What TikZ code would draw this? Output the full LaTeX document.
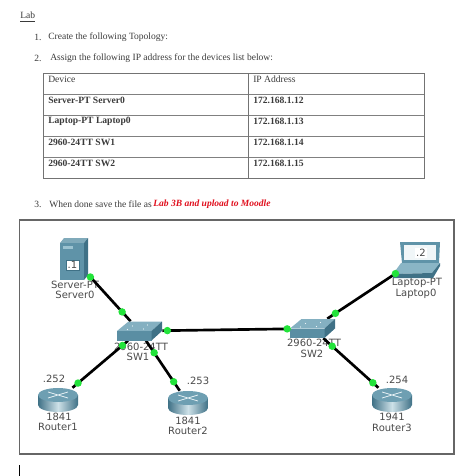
\documentclass[tikz,border=0pt]{standalone}
\usepackage{fontspec}
\setmainfont{Liberation Serif}
\newfontfamily\ptfont{DejaVu Sans}
\usetikzlibrary{positioning}
\definecolor{ink}{HTML}{3A3A3A}
\definecolor{ptgrey}{HTML}{4A4A4A}
\definecolor{ptdark}{HTML}{3F7186}
\definecolor{ptmid}{HTML}{5F93A8}
\definecolor{ptlight}{HTML}{9CC3D1}
\definecolor{portgreen}{HTML}{22E33A}
\definecolor{noterred}{HTML}{E0101E}
\tikzset{
  doc/.style={anchor=west,inner sep=0,text=ink,font=\fontsize{7.15}{9}\selectfont},
  cell/.style={anchor=west,inner sep=0,text=ink,font=\fontsize{7.2}{9}\selectfont\bfseries},
  head/.style={anchor=west,inner sep=0,text=ink,font=\fontsize{7.2}{9}\selectfont},
  ptlabel/.style={inner sep=0,text=ptgrey,font=\fontsize{7.5}{8}\selectfont\ptfont},
  device/.style={rectangle,inner sep=0},
  link/.style={line width=2pt,black},
  port/.style={circle,fill=portgreen,inner sep=0,minimum size=5.6pt},
  pics/serverpt/.style={code={
    \fill[ptlight!70!ptdark] (-14,-16) -- (-10,-21) -- (14,-21) -- (10,-16) -- cycle;
    \fill[ptdark] (10,-16) -- (14,-21) -- (14,16) -- (10,21) -- cycle;
    \fill[ptmid] (-14,-16) rectangle (10,21);
    \fill[ptlight] (-11,-13) rectangle (-1,-10);
    \fill[white,draw=ptdark,line width=0.3pt] (-8,1) rectangle (5,11);
  }},
  pics/switchpt/.style={code={
    \fill[ptlight!60!ptmid] (-22.5,0) -- (-11,-9.5) -- (22.5,-9.5) -- (12,0) -- cycle;
    \fill[ptmid!85!ptdark] (-22.5,0) rectangle (12,9.5);
    \fill[ptdark] (12,0) -- (22.5,-9.5) -- (22.5,0) -- (12,9.5) -- cycle;
    \fill[white!80!ptlight] (-7,-5) circle (0.7) (8,-6) circle (0.7) (-12,-1.5) circle (0.7) (4,-2) circle (0.7);
  }},
  pics/routerpt/.style={code={
    \shade[left color=ptdark,right color=ptdark,middle color=ptlight!50!white] (-20,-5) -- (-20,5) arc[start angle=180,end angle=0,x radius=20,y radius=7] -- (20,-5) -- cycle;
    \fill[ptmid!75!ptlight] (0,-5) ellipse[x radius=20,y radius=7];
    \draw[white!75!ptlight,line width=0.6pt] (-10,-8) -- (10,-2) (-10,-2) -- (10,-8);
  }},
  pics/laptoppt/.style={code={
    \fill[ptmid] (-16,-18) -- (24,-18) -- (23,3) -- (-14,3) -- cycle;
    \fill[white!85!ptlight] (-12,-15) rectangle (20,0);
    \fill[white] (-1,-12) rectangle (11,-2);
    \fill[ptlight!70!ptmid] (-15,3) -- (24,3) -- (16,13) -- (-23,14) -- cycle;
    \fill[ptdark] (-23,14) -- (16,13) -- (24,3) -- (24,6) -- (17,18) -- (-23,18) -- cycle;
  }},
}
\begin{document}
\begin{tikzpicture}[x=0.75pt,y=-0.75pt]
  \useasboundingbox (0,0) rectangle (474,476);
  \node[doc,anchor=west] (title) at (20,17) {\underline{Lab}};
  \node[doc] (num1) at (34,37) {1.};
  \node[doc] (item1) at (48,37) {Create the following Topology:};
  \node[doc] (num2) at (34,58) {2.};
  \node[doc] (item2) at (50,58) {Assign the following IP address for the devices list below:};
  \node[doc] (num3) at (34,204) {3.};
  \node[doc] (item3) at (49,204) {When done save the file as};
  \node[doc,text=noterred,font=\fontsize{7.15}{9}\selectfont\bfseries\itshape] (item3b) at (153,204) {Lab 3B and upload to Moodle};

  \draw[black!55,line width=0.5pt] (43.5,73.5) rectangle (424,178);
  \foreach \y in {94,115.5,136,157.5}
    \draw[black!50,line width=0.7pt] (43.5,\y) -- (424,\y);
  \draw[black!55,line width=0.5pt] (248,73.5) -- (248,178);
  \node[head] (devhead) at (48,79) {Device};
  \node[head] (iphead) at (253,79) {IP Address};
  \node[cell] (dev1) at (48,100) {Server-PT Server0};
  \node[cell] (dev2) at (48,121) {Laptop-PT Laptop0};
  \node[cell] (dev3) at (48,142) {2960-24TT SW1};
  \node[cell] (dev4) at (48,163) {2960-24TT SW2};
  \node[cell] (ip1) at (253,100) {172.168.1.12};
  \node[cell] (ip2) at (253,121) {172.168.1.13};
  \node[cell] (ip3) at (253,142) {172.168.1.14};
  \node[cell] (ip4) at (253,163) {172.168.1.15};

  \draw[black!60,line width=0.9pt] (19.5,220) rectangle (454,454);
  \draw[black,line width=0.6pt] (19.5,465) -- (19.5,476);

  \node[ptlabel] (lblserver) at (75,285) {Server-PT};
  \node[ptlabel] (lblserverb) at (75,295) {Server0};
  \node[ptlabel] (lbllaptop) at (417,283) {Laptop-PT};
  \node[ptlabel] (lbllaptopb) at (416,294) {Laptop0};
  \node[ptlabel] (lblswa) at (141,347) {2960-24TT};
  \node[ptlabel] (lblswab) at (138,357) {SW1};
  \node[ptlabel] (lblswb) at (314,343) {2960-24TT};
  \node[ptlabel] (lblswbb) at (312,354) {SW2};
  \node[ptlabel] (lblra) at (59,417) {1841};
  \node[ptlabel] (lblrab) at (58,427) {Router1};
  \node[ptlabel] (lblrb) at (188,421) {1841};
  \node[ptlabel] (lblrbb) at (188,431) {Router2};
  \node[ptlabel] (lblrc) at (392,417) {1941};
  \node[ptlabel] (lblrcb) at (392,428) {Router3};
  \node[ptlabel] (ipa) at (54,379) {.252};
  \node[ptlabel] (ipb) at (198,381) {.253};
  \node[ptlabel] (ipc) at (397,380) {.254};

  \node[device,minimum width=21pt,minimum height=31.5pt] (server0) at (74,259) {};
  \node[device,minimum width=35.25pt,minimum height=20pt] (laptop0) at (416,260) {};
  \node[device,minimum width=33.75pt,minimum height=14.25pt] (sw1) at (139.5,331) {};
  \node[device,minimum width=33.75pt,minimum height=14.25pt] (sw2) at (312.5,328.5) {};
  \node[device,minimum width=30pt,minimum height=18pt] (router1) at (58,400) {};
  \node[device,minimum width=30pt,minimum height=18pt] (router2) at (188,403) {};
  \node[device,minimum width=30pt,minimum height=18pt] (router3) at (392,400) {};

  \draw[link] (server0) -- (sw1);
  \draw[link] (router1) -- (sw1);
  \draw[link] (router2) -- (sw1);
  \draw[link] (sw1) -- (sw2);
  \draw[link] (router3) -- (sw2);
  \draw[link] (laptop0) -- (sw2);

  \pic at (server0) {serverpt};
  \pic at (laptop0) {laptoppt};
  \pic at (sw1) {switchpt};
  \pic at (sw2) {switchpt};
  \pic at (router1) {routerpt};
  \pic at (router2) {routerpt};
  \pic at (router3) {routerpt};

  \path (server0) -- node[port,pos=0.05] (pa) {} node[port,pos=0.8] (pb) {} (sw1);
  \path (router1) -- node[port,pos=0.1] (pc) {} node[port,pos=0.9] (pd) {} (sw1);
  \path (router2) -- node[port,pos=0.18] (pe) {} node[port,pos=0.76] (pf) {} (sw1);
  \path (sw1) -- node[port,pos=0.04] (pg) {} node[port,pos=0.98] (ph) {} (sw2);
  \path (router3) -- node[port,pos=0.1] (pi) {} node[port,pos=0.84] (pj) {} (sw2);
  \path (laptop0) -- node[port,pos=0.0] (pk) {} node[port,pos=0.88] (pl) {} (sw2);

  \node[ptlabel] (ipserver) at (72.5,265) {.1};
  \node[ptlabel] (iplaptop) at (421,253) {.2};
\end{tikzpicture}
\end{document}
